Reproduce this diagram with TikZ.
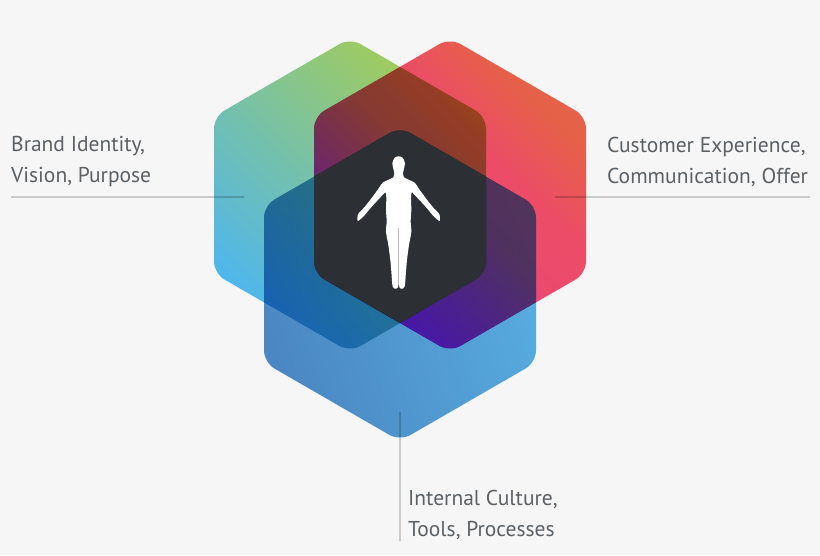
\documentclass[tikz,border=0pt]{standalone}
\usepackage{fontspec}
\setmainfont{PT Sans}
\definecolor{pagebg}{RGB}{246,246,246}
\definecolor{coretone}{RGB}{44,47,51}
\definecolor{labeltone}{RGB}{92,97,102}
\definecolor{leadertone}{RGB}{122,124,127}
\definecolor{greenA}{RGB}{165,205,85}
\definecolor{greenB}{RGB}{80,183,235}
\definecolor{blueA}{RGB}{88,175,225}
\definecolor{blueB}{RGB}{75,135,195}
\pgfdeclareverticalshading{redsweep}{100bp}{rgb(0bp)=(0.89,0.16,0.78); rgb(30bp)=(0.89,0.16,0.78); rgb(50bp)=(0.925,0.29,0.43); rgb(60bp)=(0.925,0.30,0.40); rgb(72bp)=(0.90,0.38,0.28); rgb(100bp)=(0.90,0.38,0.28)}
\def\hexoutline{(0,-157) -- (136,-78.5) -- (136,78.5) -- (0,157) -- (-136,78.5) -- (-136,-78.5) -- cycle}
\tikzset{
  hexshape/.style={rounded corners=12pt},
  leader/.style={draw=leadertone,line width=0.8pt},
  labeltext/.style={anchor=north west,inner sep=0pt,align=left,text=labeltone,font=\fontsize{21.5}{31}\selectfont},
}
\begin{document}
\begin{tikzpicture}[x=1pt,y=-1pt]
\useasboundingbox (0,0) rectangle (820,555);
\fill[pagebg] (0,0) rectangle (820,555);
\coordinate (gc) at (350,195);
\coordinate (rc) at (450,195);
\coordinate (bc) at (400,284);
\coordinate (l1) at (11,197);
\coordinate (l2) at (244,197);
\coordinate (r1) at (555,197);
\coordinate (r2) at (810,197);
\coordinate (v1) at (400,412);
\coordinate (v2) at (400,541);
\begin{scope}[blend group=multiply]
\shade[hexshape,shift={(gc)},top color=greenA,bottom color=greenB,shading angle=-45] \hexoutline;
\shade[hexshape,shift={(rc)},shading=redsweep,shading angle=-45] \hexoutline;
\shade[hexshape,shift={(bc)},top color=blueA,bottom color=blueB,shading angle=-70] \hexoutline;
\draw[leader] (l1) -- (l2);
\draw[leader] (r1) -- (r2);
\draw[leader] (v1) -- (v2);
\end{scope}
\begin{scope}
\clip[hexshape,shift={(gc)}] \hexoutline;
\clip[hexshape,shift={(rc)}] \hexoutline;
\clip[hexshape,shift={(bc)}] \hexoutline;
\fill[coretone] (200,50) rectangle (600,400);
\end{scope}
\fill[white,shift={(340,145)},x=0.3333pt,y=-0.3333pt] plot[smooth cycle,tension=0.45] coordinates {
(176,34)(188,38)(195,55)(191,75)(189,88)(192,97)(208,105)(224,113)(238,133)(260,163)(280,188)(298,208)(299,228)(290,222)(281,214)(254,182)(222,148)(215,142)(213,160)(214,195)(212,230)(214,260)(207,300)(201,345)(198,380)(194,425)(184,431)(177,420)(177,340)(176.5,250)(175.5,250)(175,340)(175,420)(168,431)(158,425)(154,380)(151,345)(145,300)(138,260)(140,230)(138,195)(139,160)(137,142)(130,148)(98,182)(71,214)(62,222)(53,228)(54,208)(72,188)(92,163)(114,133)(128,113)(144,105)(160,97)(163,88)(161,75)(157,55)(164,38)};
\node[labeltext] (brand) at (11,136) {Brand Identity,\\Vision, Purpose};
\node[labeltext] (customer) at (607,137) {Customer Experience,\\Communication, Offer};
\node[labeltext] (internal) at (408,490) {Internal Culture,\\Tools, Processes};
\end{tikzpicture}
\end{document}
